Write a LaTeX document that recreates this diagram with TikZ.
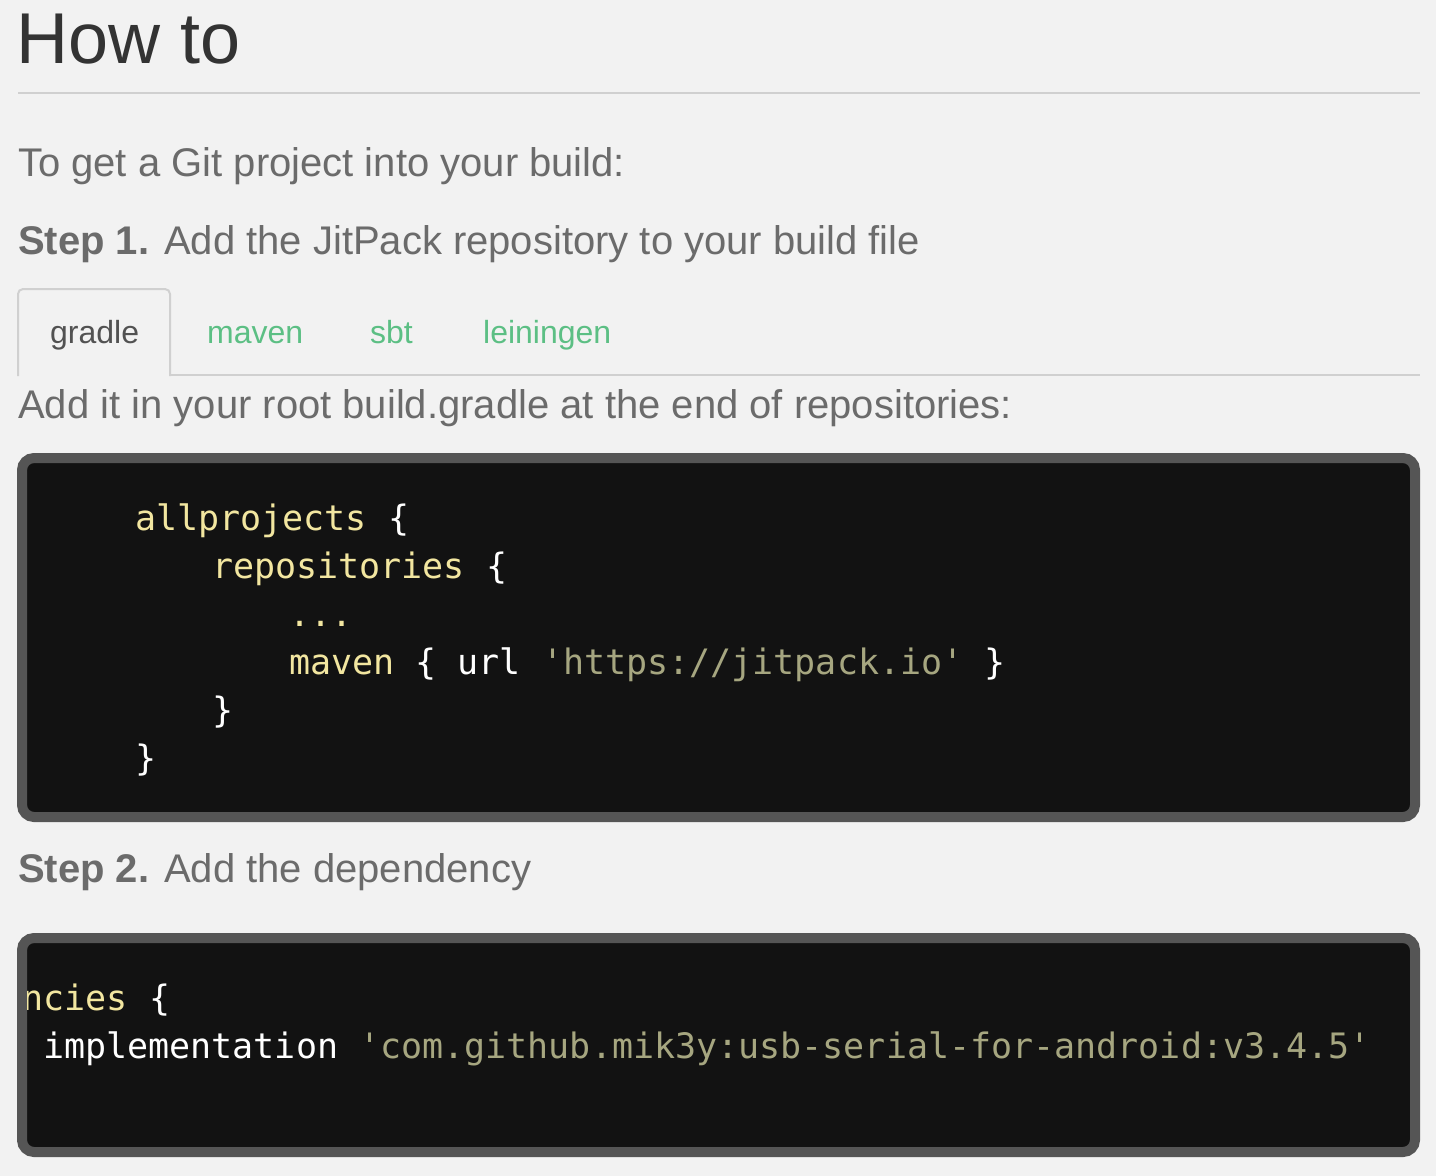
\documentclass[tikz,border=0pt]{standalone}
\usepackage{fontspec}
\setmainfont{Liberation Sans}
\newfontfamily\codefont{DejaVu Sans Mono}
\definecolor{bg}{HTML}{F2F2F2}
\definecolor{txt}{HTML}{6B6B6B}
\definecolor{head}{HTML}{333333}
\definecolor{tabg}{HTML}{5CBF84}
\definecolor{codebg}{HTML}{121212}
\definecolor{codebd}{HTML}{555555}
\definecolor{kw}{HTML}{F2E6A0}
\definecolor{str}{HTML}{A6A680}
\definecolor{ln}{HTML}{D0D0D0}
\tikzset{
 t/.style={anchor=base west,inner sep=0pt,font=\fontsize{40}{44}\selectfont,text=txt},
 tab/.style={t,font=\fontsize{32}{36}\selectfont,text=tabg},
 code/.style={anchor=base west,inner sep=0pt,font=\codefont\fontsize{35}{40}\selectfont,text=white},
 box/.style={draw=codebd,line width=10pt,fill=codebg,rounded corners=12pt}
}
\begin{document}
\begin{tikzpicture}[x=1pt,y=-1pt]
\path[fill=bg] (0,0) rectangle (1436,1176);
\useasboundingbox (0,0) rectangle (1436,1176);
\node[t,text=head,font=\fontsize{72}{80}\selectfont] (h) at (16,63) {How to};
\draw[ln,line width=2pt] (18,93) -- (1420,93);
\node[t] (p) at (18,176) {To get a Git project into your build:};
\node[t] (s1) at (18,254) {\textbf{Step 1.} Add the JitPack repository to your build file};
\draw[ln,line width=2pt,fill=bg,rounded corners=5pt] (18,376) -- (18,289) -- (170,289) -- (170,376);
\draw[ln,line width=2pt] (170,375) -- (1420,375);
\node[tab,text=head!85] (g) at (50,343) {gradle};
\node[tab] (m) at (207,343) {maven};
\node[tab] (sb) at (370,343) {sbt};
\node[tab] (l) at (483,343) {leiningen};
\node[t] (a) at (18,418) {Add it in your root build.gradle at the end of repositories:};
\draw[box] (22,458) rectangle (1415,817);
\node[code] (c1) at (135,530) {\textcolor{kw}{allprojects} \{};
\node[code] (c2) at (212,578) {\textcolor{kw}{repositories} \{};
\node[code] (c3) at (289,626) {\textcolor{kw}{...}};
\node[code] (c4) at (289,674) {\textcolor{kw}{maven} \{ url \textcolor{str}{'https://jitpack.io'} \}};
\node[code] (c5) at (212,722) {\}};
\node[code] (c6) at (135,770) {\}};
\node[t] (s2) at (18,882) {\textbf{Step 2.} Add the dependency};
\draw[box] (22,938) rectangle (1415,1152);
\begin{scope}
\clip (27,943) rectangle (1410,1147);
\node[code] (d1) at (-125,1010) {\textcolor{kw}{dependencies} \{};
\node[code] (d2) at (43,1058) {implementation \textcolor{str}{'com.github.mik3y:usb-serial-for-android:v3.4.5'}};
\end{scope}
\end{tikzpicture}
\end{document}
